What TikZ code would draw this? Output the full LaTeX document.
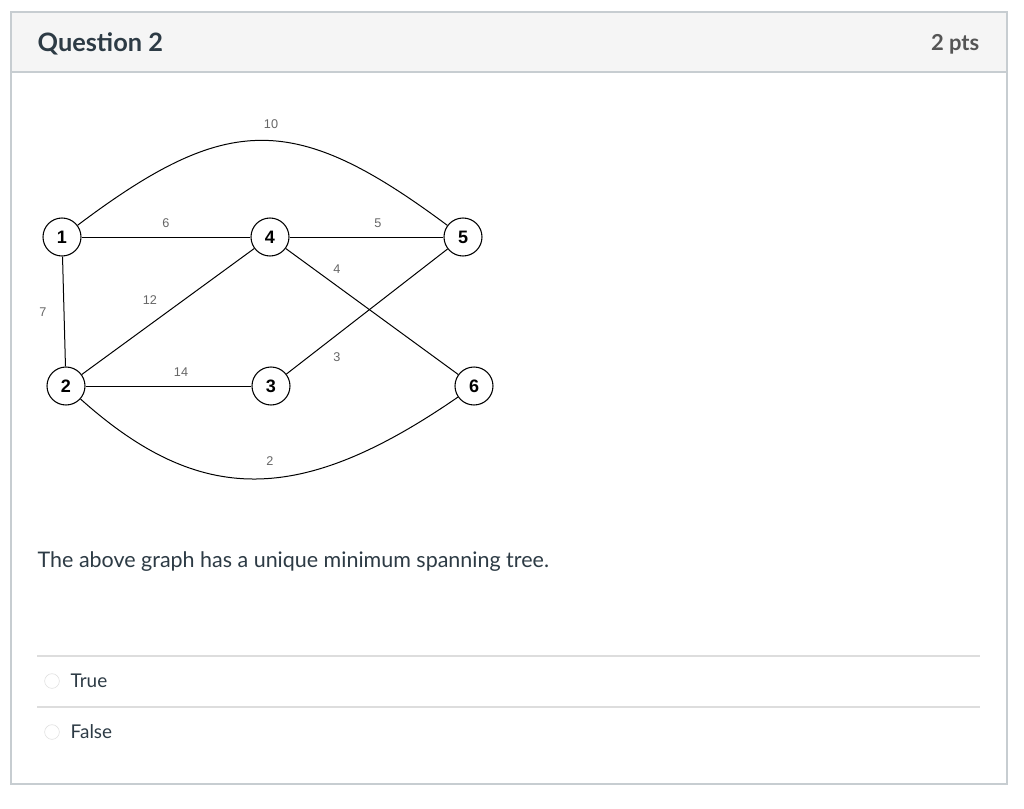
\documentclass[tikz,border=0pt]{standalone}
\usepackage{fontspec}
\setmainfont{Lato}
\newfontfamily\graphfont{Liberation Sans}
\definecolor{headfill}{HTML}{F5F5F5}
\definecolor{framegray}{HTML}{C7CDD1}
\definecolor{rulegray}{HTML}{DDDDDD}
\definecolor{textgray}{HTML}{2D3B45}
\definecolor{ptsgray}{HTML}{555555}
\definecolor{labelgray}{HTML}{666666}
\tikzset{
  vertex/.style={circle, draw, line width=0.8pt, minimum size=28.5pt, inner sep=0pt,
    font=\graphfont\bfseries\fontsize{13.5}{15}\selectfont},
  weight/.style={text=labelgray, font=\graphfont\fontsize{9.5}{11}\selectfont},
  edge/.style={line width=0.75pt},
  radio/.style={circle, draw=rulegray, fill=white, minimum size=11pt, inner sep=0pt},
  choice/.style={anchor=west, text=textgray, font=\fontsize{14.2}{16}\selectfont}
}
\begin{document}
\begin{tikzpicture}[x=0.75pt,y=-0.75pt]
  \useasboundingbox (0,0) rectangle (1024,808);
  \fill[white] (0,0) rectangle (1024,808);
  % question box and header
  \draw[color=framegray, line width=1pt] (11,12) rectangle (1007,784);
  \draw[color=framegray, line width=1pt, fill=headfill] (11,12) rectangle (1007,72);
  \node[anchor=west, text=textgray, font=\bfseries\fontsize{19}{22}\selectfont] (title) at (33,44) {Question 2};
  \node[anchor=east, text=ptsgray, font=\bfseries\fontsize{16.5}{19}\selectfont] (pts) at (984,44) {2 pts};
  % the graph
  \foreach \n/\x/\y in {1/62/237, 4/270/237, 5/463/237, 2/66/386, 3/271/386, 6/474/386}
    \node[vertex] (v\n) at (\x,\y) {\n};
  \draw[edge] (v1) -- (v4);
  \draw[edge] (v4) -- (v5);
  \draw[edge] (v1) -- (v2);
  \draw[edge] (v2) -- (v4);
  \draw[edge] (v2) -- (v3);
  \draw[edge] (v4) -- (v6);
  \draw[edge] (v3) -- (v5);
  \draw[edge] (v1) .. controls (228,112) and (295,112) .. (v5);
  \draw[edge] (v2) .. controls (200,506) and (300,506) .. (v6);
  \node[weight] (w15) at (271,124) {10};
  \node[weight] (w14) at (166,223) {6};
  \node[weight] (w45) at (378,223) {5};
  \node[weight] (w46) at (337,269) {4};
  \node[weight] (w24) at (150,300) {12};
  \node[weight] (w12) at (43,312) {7};
  \node[weight] (w23) at (181,372) {14};
  \node[weight] (w35) at (337,357) {3};
  \node[weight] (w26) at (270,461) {2};
  % statement and answers
  \node[anchor=west, text=textgray, font=\fontsize{16.1}{19}\selectfont] (claim) at (33,562) {The above graph has a unique minimum spanning tree.};
  \coordinate (ra) at (37,656);
  \coordinate (rb) at (980,656);
  \coordinate (rc) at (37,707);
  \coordinate (rd) at (980,707);
  \draw[rulegray, line width=1pt] (ra) -- (rb);
  \draw[rulegray, line width=1pt] (rc) -- (rd);
  \node[radio] (r1) at (52,681) {};
  \node[radio] (r2) at (52,732) {};
  \node[choice] (true) at (66,681) {True};
  \node[choice] (false) at (66,732) {False};
\end{tikzpicture}
\end{document}
